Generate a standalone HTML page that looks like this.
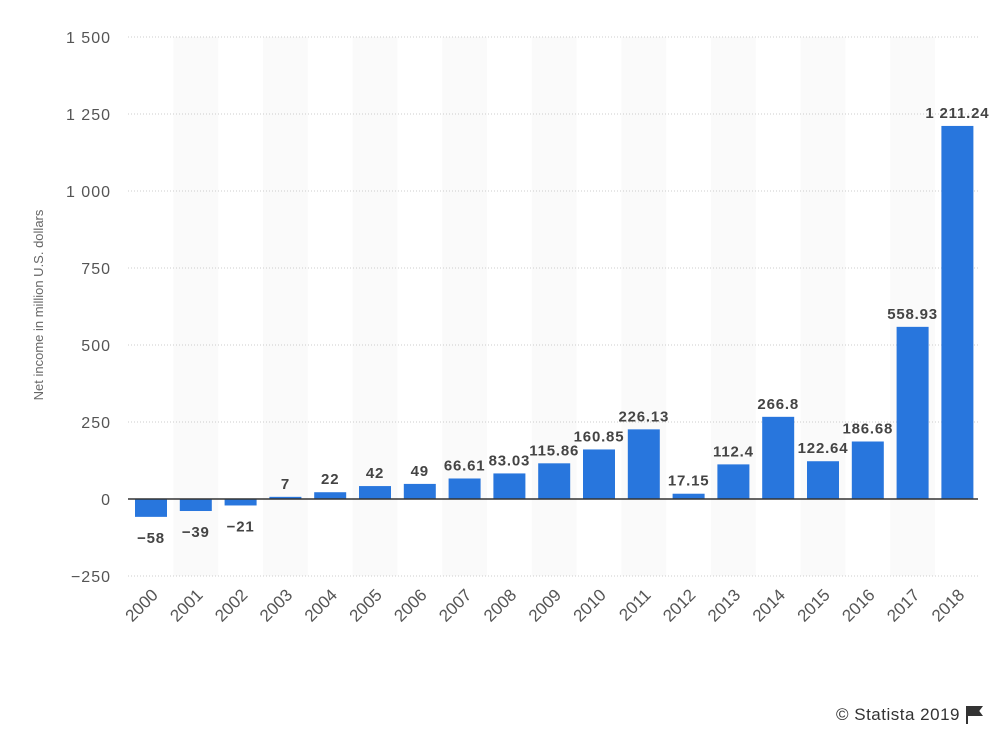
<!DOCTYPE html>
<html><head><meta charset="utf-8"><style>
body{margin:0;background:#fff;width:1000px;height:731px;overflow:hidden;font-family:"Liberation Sans",sans-serif}
</style></head><body>
<svg id="c" width="1000" height="731"></svg>
<script>
const years=["2000","2001","2002","2003","2004","2005","2006","2007","2008","2009","2010","2011","2012","2013","2014","2015","2016","2017","2018"];
const values=[-58,-39,-21,7,22,42,49,66.61,83.03,115.86,160.85,226.13,17.15,112.4,266.8,122.64,186.68,558.93,1211.24];
const labels=["−58","−39","−21","7","22","42","49","66.61","83.03","115.86","160.85","226.13","17.15","112.4","266.8","122.64","186.68","558.93","1 211.24"];
const ticks=[-250,0,250,500,750,1000,1250,1500];
const tickLabels=["−250","0","250","500","750","1 000","1 250","1 500"];
const NS="http://www.w3.org/2000/svg",svg=document.getElementById('c');
const y=v=>499-v*0.308;
const x=i=>151+i*44.8;
function mk(t,a,p){const e=document.createElementNS(NS,t);for(const k in a)e.setAttribute(k,a[k]);(p||svg).appendChild(e);return e;}
years.forEach((yr,i)=>{if(i%2==1){const r=mk('rect',{x:x(i)-22.4,y:y(1500),width:44.8,height:y(-250)-y(1500),fill:'#fafafa'});

}});
ticks.forEach((t,i)=>{const l=mk('line',{x1:128,x2:978,y1:y(t),y2:y(t),stroke:'#ccc','stroke-dasharray':'1,2'});


const tx=mk('text',{x:111,y:y(t)+6,'text-anchor':'end','font-size':16,'letter-spacing':'1',fill:'#555'});tx.textContent=tickLabels[i];

});
values.forEach((v,i)=>{const top=Math.min(y(v),y(0)),h=Math.abs(y(v)-y(0));
const r=mk('rect',{x:x(i)-16,y:top,width:32,height:Math.max(h,1.5),fill:'#2876dd'});


const t=mk('text',{x:x(i),y:v>=0?y(v)-8:y(v)+26,'text-anchor':'middle','font-size':15,'font-weight':'bold','letter-spacing':'0.8',fill:'#444'});t.textContent=labels[i];


const xl=mk('text',{transform:`translate(${x(i)+8},${596}) rotate(-45)`,'text-anchor':'end','font-size':17,fill:'#555'});xl.textContent=years[i];

});
const z=mk('line',{x1:128,x2:978,y1:y(0),y2:y(0),stroke:'#333','stroke-width':1.5});


const yt=mk('text',{transform:'translate(43,305) rotate(-90)','text-anchor':'middle','font-size':13,fill:'#666'});yt.textContent='Net income in million U.S. dollars';


const cr=mk('text',{x:960,y:720,'text-anchor':'end','font-size':17,'letter-spacing':'0.5',fill:'#333'});cr.textContent='© Statista 2019';


const fl=mk('path',{d:'M967 706v18M967 707h14l-3 4 3 4h-14z',stroke:'#333',fill:'#333','stroke-width':2});


</script>
</body></html>
